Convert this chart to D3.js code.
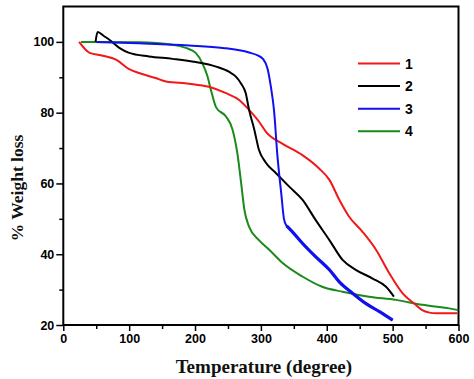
<!DOCTYPE html>
<html><head><meta charset="utf-8">
<script src="https://cdn.jsdelivr.net/npm/d3@7"></script>
<style>body{margin:0;background:#fff}svg{display:block}</style>
</head><body>
<svg id="c" width="474" height="379"></svg>
<script>
const seriesNames = ["1","2","3","4"];
const seriesColors = ["#f01818","#000000","#1010f0","#1a8a1a"];

const t1 = [24,40,60,80,100,115,140,156,191,221,247,267,282,297,308,333,363,388,404,419,434,454,475,495,515,535,545,556,566,598];
const w1 = [100,96.9,96.1,95,92.3,91.2,89.8,88.8,88.2,87.3,85.5,83.6,80.8,77.5,74.5,71.2,68,64.3,61,55.4,50.6,46.4,41.2,34.6,29,25.7,24.2,23.5,23.3,23.3];

const t2 = [49,52,62,70,85,100,130,166,201,232,252,262,270,277,282,290,297,307,323,343,363,383,404,424,444,469,490,502];
const w2 = [100,102.8,101.6,100.6,98.3,96.9,95.9,95.2,94.3,93,91.5,90.2,88.2,85.5,80.8,75.2,69.5,66,62.9,59.1,55.4,49.7,44,38.4,35.6,33.2,30.8,28];

const t3 = [50,115,191,242,282,295,303,310,315,320,325,331,335,339,345,363,383,404,419,439,459,480,500];
const w3 = [100,99.6,99,98.3,97,96.2,95.2,92.5,87.5,80.5,68,57,50,48,46.9,43.1,39.3,35.6,32.2,29,26.1,23.8,21.4];

const t4 = [27,115,166,186,201,211,219,224,232,247,257,265,270,275,282,297,313,333,363,393,424,464,505,545,586,600];
const w4 = [100,99.9,99.2,98.3,96.9,94,90.2,86.5,81.5,78.9,75.2,67.6,60.1,52.5,47.8,44,41.2,37.5,33.7,30.8,29.4,28,27.1,25.7,24.7,24.2];

const xTicks = [0,100,200,300,400,500,600];
const yTicks = [20,40,60,80,100];
const xLabel = "Temperature (degree)";
const yLabel = "% Weight loss";

const temps = [t1,t2,t3,t4], weights = [w1,w2,w3,w4];

const svg = d3.select("#c");
const L = 63.3, R = 458.5, T = 6.5, B = 325;
const x = d3.scaleLinear().domain([0,600]).range([L,R]);
const y = d3.scaleLinear().domain([20,110]).range([B,T]);

const tickFont = "bold 12.5px 'Liberation Sans', Arial, sans-serif";

// minor ticks
const gx = svg.append("g").attr("transform",`translate(0,${B})`);
gx.call(d3.axisBottom(x).tickValues(d3.range(50,600,100)).tickSize(4).tickFormat(""));
const gxM = svg.append("g").attr("transform",`translate(0,${B})`);
gxM.call(d3.axisBottom(x).tickValues(xTicks).tickSize(6).tickPadding(3).tickFormat(d3.format("d")));
const gy = svg.append("g").attr("transform",`translate(${L},0)`);
gy.call(d3.axisLeft(y).tickValues([30,50,70,90]).tickSize(4).tickFormat(""));
const gyM = svg.append("g").attr("transform",`translate(${L},0)`);
gyM.call(d3.axisLeft(y).tickValues(yTicks).tickSize(7).tickPadding(2).tickFormat(d3.format("d")));
svg.selectAll(".domain").remove();
svg.selectAll(".tick line").attr("stroke","#000").attr("stroke-width",1.5);
svg.selectAll(".tick text").style("font",tickFont).attr("fill","#000");

// frame
svg.append("rect").attr("x",L).attr("y",T).attr("width",R-L).attr("height",B-T)
  .attr("fill","none").attr("stroke","#000").attr("stroke-width",2);

const clip = svg.append("clipPath").attr("id","clp").append("rect")
  .attr("x",L).attr("y",T).attr("width",R-L).attr("height",B-T);

const line = d3.line().x(d=>x(d[0])).y(d=>y(d[1])).curve(d3.curveMonotoneX);
const plot = svg.append("g").attr("clip-path","url(#clp)");
const order = [3,0,1,2];
order.forEach(i=>{
  const pts = temps[i].map((t,k)=>[t,weights[i][k]]);
  plot.append("path").attr("d",line(pts)).attr("fill","none")
    .attr("stroke",seriesColors[i]).attr("stroke-width",2).attr("stroke-linejoin","round");
  if (i===2) {
    const tail = pts.filter(p=>p[0]>=339);
    plot.append("path").attr("d",line(tail)).attr("fill","none")
      .attr("stroke",seriesColors[i]).attr("stroke-width",3.2).attr("stroke-linejoin","round");
  }
});

// legend
const lg = svg.append("g");
seriesNames.forEach((n,i)=>{
  const yy = 63.5 + i*22.6;
  lg.append("line").attr("x1",358).attr("x2",400).attr("y1",yy).attr("y2",yy)
    .attr("stroke",seriesColors[i]).attr("stroke-width",2);
  lg.append("text").attr("x",405).attr("y",yy).attr("dy","0.36em")
    .style("font","bold 14px 'Liberation Sans', Arial, sans-serif").text(n);
});

// axis titles
svg.append("text").attr("x",(L+R)/2+3).attr("y",373).attr("text-anchor","middle")
  .style("font","bold 19px 'Liberation Serif', 'Times New Roman', serif").attr("fill","#111").text(xLabel);
svg.append("text").attr("transform",`translate(23,188) rotate(-90)`).attr("text-anchor","middle")
  .style("font","bold 17.5px 'Liberation Serif', 'Times New Roman', serif").attr("fill","#111").text(yLabel);
</script>
</body></html>
